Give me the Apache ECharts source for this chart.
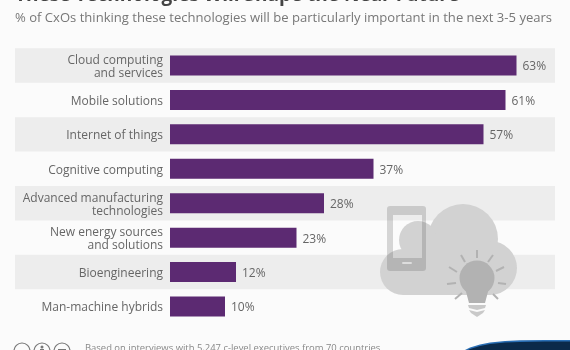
<!DOCTYPE html>
<html><head><meta charset="utf-8">
<style>html,body{margin:0;padding:0;background:#fbfbfb}#c{width:570px;height:350px}</style>
<script src="https://cdn.jsdelivr.net/npm/echarts@6/dist/echarts.min.js"></script>
</head><body><div id="c"></div>
<script>
const categories = ["Cloud computing\nand services","Mobile solutions","Internet of things","Cognitive computing","Advanced manufacturing\ntechnologies","New energy sources\nand solutions","Bioengineering","Man-machine hybrids"];
const values = [63,61,57,37,28,23,12,10];
const titleText = "These Technologies Will Shape the Near Future";
const subtitleText = "% of CxOs thinking these technologies will be particularly important in the next 3-5 years";
const sourceText = "Based on interviews with 5,247 c-level executives from 70 countries";
const F = '"Open Sans"';
const chart = echarts.init(document.getElementById('c'), null, {renderer:'canvas'});
const cloud = '#d2d2d2', phone = 'rgba(90,90,90,0.24)', bulb = '#b2b2b2', base = '#c9c9c9';
const swoosh = [[463,351],[470,347.5],[480,344.5],[490,342.5],[505,341],[520,340.3],[545,340],[571,340],[571,351]];
const iconParts = [
  {type:'circle',shape:{cx:463,cy:239,r:35},style:{fill:cloud}},
  {type:'circle',shape:{cx:490,cy:268,r:27},style:{fill:cloud}},
  {type:'circle',shape:{cx:418,cy:240,r:19},style:{fill:cloud}},
  {type:'circle',shape:{cx:403,cy:272,r:23},style:{fill:cloud}},
  {type:'rect',shape:{x:403,y:240,width:87,height:55},style:{fill:cloud}},
  {type:'rect',shape:{x:387,y:206,width:39,height:9,r:[3,3,0,0]},style:{fill:phone}},
  {type:'rect',shape:{x:387,y:258,width:39,height:13,r:[0,0,3,3]},style:{fill:phone}},
  {type:'rect',shape:{x:387,y:215,width:6,height:43},style:{fill:phone}},
  {type:'rect',shape:{x:422,y:215,width:4,height:43},style:{fill:phone}},
  {type:'rect',shape:{x:402,y:262,width:10,height:2,r:1},style:{fill:'#ddd'}},
  {type:'circle',shape:{cx:477,cy:278,r:17.5},style:{fill:bulb}},
  {type:'polygon',shape:{points:[[465,288],[489,288],[485,303],[469,303]]},style:{fill:bulb}},
  {type:'polygon',shape:{points:[[468,305],[486,305],[485,308],[477,310],[469,308]]},style:{fill:base}},
  {type:'polygon',shape:{points:[[469,310],[477,312],[485,310],[483,313],[477,317],[471,313]]},style:{fill:base}},
  ...[[477,250,477,258],[461,255,465,262],[449,267,457,272],[447,284,456,283],[455,299,462,293],[493,255,488,262],[504,267,496,271],[506,284,498,283],[498,299,493,294]].map(s=>({type:'line',shape:{x1:s[0],y1:s[1],x2:s[2],y2:s[3]},style:{stroke:bulb,lineWidth:2}}))
].map((e,i)=>Object.assign(e,{z:5+i*0.01,silent:true}));
const hiddenX = i=>({gridIndex:i,type:'value',min:0,max:70,axisLine:{show:false},axisTick:{show:false},axisLabel:{show:false},splitLine:{show:false}});
chart.setOption({
  backgroundColor:'#fbfbfb',
  animation:false,
  grid:[
    {left:15,width:540,top:48.3,height:275.4},
    {left:170,width:385,top:48.3,height:275.4},
    {left:170,width:385,top:49.8,height:275.4}
  ],
  xAxis:[hiddenX(0),hiddenX(1),hiddenX(2)],
  yAxis:[
    {gridIndex:0,type:'category',inverse:true,data:categories,axisLine:{show:false},axisTick:{show:false},axisLabel:{show:false},splitLine:{show:false},
      splitArea:{show:true,areaStyle:{color:['#ededed','rgba(0,0,0,0)']}}},
    {gridIndex:1,type:'category',inverse:true,data:categories,axisLine:{show:false},axisTick:{show:false},axisLabel:{show:false},splitLine:{show:false}},
    {gridIndex:2,type:'category',inverse:true,data:categories,axisLine:{show:false},axisTick:{show:false},splitLine:{show:false},
      axisLabel:{color:'#666',fontFamily:F,fontSize:12,lineHeight:13,align:'right',margin:7,interval:0}}
  ],
  series:[{
    type:'bar',xAxisIndex:1,yAxisIndex:1,data:values,barWidth:20,
    itemStyle:{color:'#5c2a72'},
    z:3,
    label:{show:true,position:'right',distance:6,offset:[0,1.5],formatter:p=>p.value+'%',color:'#666',fontFamily:F,fontSize:12}
  }],
  graphic:[
    {type:'text',z:10,left:15,top:-14,style:{text:titleText,fill:'#444',font:'bold 19px '+F}},
    {type:'text',z:10,left:15,top:12,style:{text:subtitleText,fill:'#777',font:'13.07px '+F}},
    {type:'text',z:10,left:85,top:344,style:{text:sourceText,fill:'#888',font:'9.45px '+F}},
    ...[22,42,62].map(x=>({type:'circle',z:10,shape:{cx:x,cy:351,r:8},style:{fill:'none',stroke:'#777',lineWidth:1.2}})),
    {type:'circle',z:10,shape:{cx:42,cy:347,r:1.5},style:{fill:'#777'}},
    {type:'rect',z:10,shape:{x:40,y:349,width:4,height:2},style:{fill:'#777'}},
    {type:'rect',z:10,shape:{x:58,y:349,width:8,height:1},style:{fill:'#777'}},
    {type:'polygon',z:10,shape:{points:swoosh},style:{fill:'#2a6fb5'}},
    {type:'polygon',z:11,shape:{points:swoosh.map(p=>[p[0],p[1]+1.6])},style:{fill:'#0b2a4a'}},
    ...iconParts
  ]
});
</script></body></html>
